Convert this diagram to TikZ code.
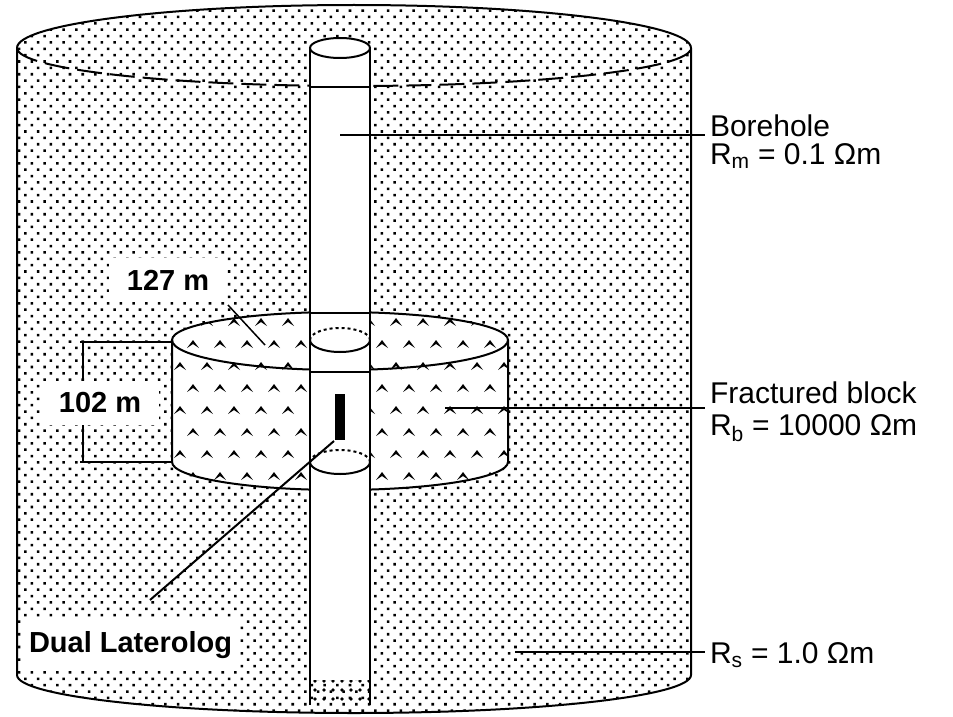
\documentclass[tikz,border=0pt]{standalone}
\usepackage{fontspec}
\setmainfont{Liberation Sans}
\usetikzlibrary{patterns.meta}
\begin{document}
\begin{tikzpicture}[x=1pt,y=-1pt,line width=2pt,
  lbl/.style={anchor=west,font=\fontsize{30}{32}\selectfont,inner sep=0pt},
  dim/.style={font=\bfseries\fontsize{29}{31}\selectfont,fill=white,inner xsep=18pt,inner ysep=12pt}]
\useasboundingbox (0,0) rectangle (953,717);
% outer cylinder
\path[pattern={Dots[radius=1.8pt,distance=9pt,angle=45]}]
  (17,48) -- (17,675) arc[start angle=180,end angle=0,x radius=337,y radius=38]
  -- (691,48) arc[start angle=0,end angle=-180,x radius=337,y radius=43] -- cycle;
\draw (17,48) -- (17,675) arc[start angle=180,end angle=0,x radius=337,y radius=38]
  -- (691,48) arc[start angle=0,end angle=-180,x radius=337,y radius=43];
\draw[dashed,dash pattern=on 25pt off 8pt] (17,48) arc[start angle=180,end angle=0,x radius=337,y radius=38];
% fractured block
\path[fill=white] (172,340) -- (172,462) arc[start angle=180,end angle=0,x radius=168,y radius=28]
  -- (508,340) arc[start angle=0,end angle=-180,x radius=168,y radius=28] -- cycle;
\begin{scope}
\clip (172,340) -- (172,462) arc[start angle=180,end angle=0,x radius=168,y radius=28]
  -- (508,340) arc[start angle=0,end angle=-180,x radius=168,y radius=28] -- cycle;
\foreach \r in {0,...,7}{
  \foreach \c in {0,...,12}{
    \pgfmathsetmacro{\xx}{180+\c*27+mod(\r,2)*13}
    \pgfmathsetmacro{\yy}{322+\r*22}
    \fill (\xx-6,\yy+4) -- (\xx,\yy-4) -- (\xx+6,\yy+4) -- (\xx,\yy) -- cycle;
  }}
\end{scope}
\draw (172,340) -- (172,462) arc[start angle=180,end angle=0,x radius=168,y radius=28]
  -- (508,340) arc[start angle=0,end angle=-180,x radius=168,y radius=28];
\draw (172,340) arc[start angle=180,end angle=0,x radius=168,y radius=30];
% borehole
\fill[white] (310,48) rectangle (370,680);
\path[pattern={Dots[radius=1.8pt,distance=9pt]}] (310,680) rectangle (370,705);
\draw (310,48) -- (310,705) (370,48) -- (370,705);
\draw[fill=white] (340,48) ellipse[x radius=30,y radius=10];
\draw (310,87) -- (370,87);
\draw (310,313) -- (370,313) (310,372) -- (370,372);
\draw (310,340) arc[start angle=180,end angle=0,x radius=30,y radius=12];
\draw[dashed] (310,340) arc[start angle=180,end angle=360,x radius=30,y radius=12];
\draw[dashed] (310,462) arc[start angle=180,end angle=360,x radius=30,y radius=12];
\draw (310,462) arc[start angle=180,end angle=0,x radius=30,y radius=12];
\node[fill=black,minimum width=10pt,minimum height=46pt,inner sep=0pt] (tool) at (340,417) {};
% dimensions
\draw (80,342) -- (172,342) (80,462) -- (172,462);
\draw (83,342) -- (83,462);
\node[dim] (d102) at (100,403) {102 m};
\node[dim] (d127) at (168,280) {127 m};
\coordinate (l127) at (265,345);
\draw[line width=1.5pt] (228,305) -- (l127);
% leaders
\coordinate (bh) at (340,135); \coordinate (bhe) at (705,135);
\draw (bh) -- (bhe);
\node[lbl] (b1) at (709,126) {Borehole};
\node[lbl] (b2) at (709,156) {R$_{\mathrm{m}}$ = 0.1 Ωm};
\coordinate (fb) at (445,408); \coordinate (fbe) at (705,408);
\draw (fb) -- (fbe);
\node[lbl] (f1) at (709,393) {Fractured block};
\node[lbl] (f2) at (709,428) {R$_{\mathrm{b}}$ = 10000 Ωm};
\coordinate (rs) at (515,652); \coordinate (rse) at (705,652);
\draw (rs) -- (rse);
\node[lbl] (r1) at (709,655) {R$_{\mathrm{s}}$ = 1.0 Ωm};
\coordinate (dl) at (150,600);
\draw (dl) -- (tool.south west);
\node[dim,anchor=west,inner xsep=8pt] (dual) at (20,645) {Dual Laterolog};
\end{tikzpicture}
\end{document}
